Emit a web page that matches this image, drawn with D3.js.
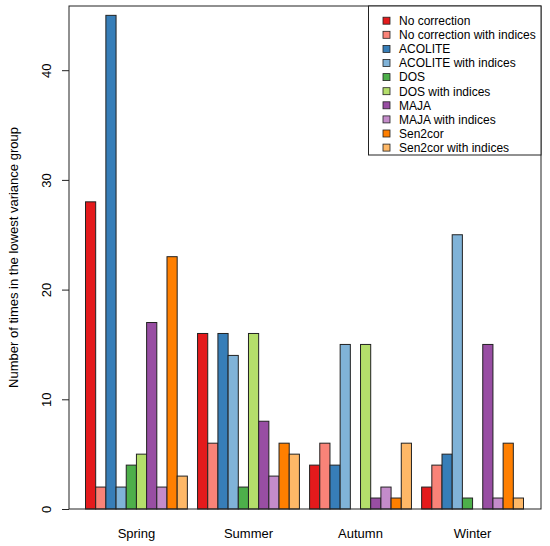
<!DOCTYPE html>
<html>
<head>
<meta charset="utf-8">
<script src="https://cdn.jsdelivr.net/npm/d3@7"></script>
<style>
  body { margin: 0; background: #fff; }
  text { font-family: "Liberation Sans", Arial, sans-serif; fill: #000; }
</style>
</head>
<body>
<div id="chart"></div>
<script>
// Chart data
var seasons = ["Spring", "Summer", "Autumn", "Winter"];
var methods = ["No correction", "No correction with indices", "ACOLITE", "ACOLITE with indices",
  "DOS", "DOS with indices", "MAJA", "MAJA with indices", "Sen2cor", "Sen2cor with indices"];
var colors = ["#e41a1c", "#f98378", "#377eb8", "#80b3d8", "#4daf4a",
  "#b4de6b", "#984ea3", "#c48cca", "#ff7f00", "#feb867"];
// one row per season, one value per method
var springValues = [28, 2, 45, 2, 4, 5, 17, 2, 23, 3];
var summerValues = [16, 6, 16, 14, 2, 16, 8, 3, 6, 5];
var autumnValues = [4, 6, 4, 15, 0, 15, 1, 2, 1, 6];
var winterValues = [2, 4, 5, 25, 1, 0, 15, 1, 6, 1];
var yTicks = [0, 10, 20, 30, 40];

var allValues = [springValues, summerValues, autumnValues, winterValues];

var svgWidth = 550;
var svgHeight = 546;

// plot box
var box = { left: 69, top: 6, right: 541, bottom: 509 };

var svg = d3.select("#chart")
  .append("svg")
  .attr("width", svgWidth)
  .attr("height", svgHeight);

// y scale: 0 sits on the box bottom
var yScale = d3.scaleLinear()
  .domain([0, 10])
  .range([box.bottom, box.bottom - 109.7]);

// group positions (gap of one bar width between groups)
var xGroup = d3.scaleBand()
  .domain(seasons)
  .range([85.5, 523.5])
  .paddingInner(1 / 11)
  .paddingOuter(0);

var xInner = d3.scaleBand()
  .domain(d3.range(methods.length))
  .range([0, xGroup.bandwidth()])
  .padding(0);

// bars
var groups = svg.selectAll(".season")
  .data(seasons)
  .enter()
  .append("g")
  .attr("class", "season")
  .attr("transform", d => `translate(${xGroup(d)}, 0)`);

groups.selectAll("rect")
  .data((d, i) => allValues[i].map((v, j) => ({ value: v, idx: j })))
  .enter()
  .append("rect")
  .attr("x", d => xInner(d.idx))
  .attr("y", d => yScale(d.value))
  .attr("width", xInner.bandwidth())
  .attr("height", d => yScale(0) - yScale(d.value))
  .attr("fill", d => colors[d.idx])
  .attr("stroke", "#222")
  .attr("stroke-width", 1);

// box around plot
svg.append("rect")
  .attr("x", box.left)
  .attr("y", box.top)
  .attr("width", box.right - box.left)
  .attr("height", box.bottom - box.top)
  .attr("fill", "none")
  .attr("stroke", "#222")
  .attr("stroke-width", 1);

// left axis
var leftAxis = d3.axisLeft(yScale)
  .tickValues(yTicks)
  .tickSize(7)
  .tickPadding(0)
  .tickFormat(d3.format("d"));

var yAxisG = svg.append("g")
  .attr("transform", `translate(${box.left}, 0)`)
  .call(leftAxis);

yAxisG.select(".domain").remove();
yAxisG.selectAll(".tick line").attr("stroke", "#222");
yAxisG.selectAll(".tick text")
  .attr("x", null)
  .attr("dy", null)
  .attr("transform", "translate(-18, 0) rotate(-90)")
  .style("text-anchor", "middle")
  .attr("font-size", 13)
  .attr("font-family", "Liberation Sans, Arial, sans-serif");

// season labels
svg.selectAll(".season-label")
  .data(seasons)
  .enter()
  .append("text")
  .attr("class", "season-label")
  .attr("x", d => xGroup(d) + xGroup.bandwidth() / 2)
  .attr("y", 538)
  .style("text-anchor", "middle")
  .style("font-size", "13px")
  .text(d => d);

// y axis title
svg.append("text")
  .attr("transform", `translate(18, ${(box.top + box.bottom) / 2}) rotate(-90)`)
  .style("text-anchor", "middle")
  .style("font-size", "13px")
  .text("Number of times in the lowest variance group");

// legend
var legend = svg.append("g");

legend.append("rect")
  .attr("x", 368.5)
  .attr("y", box.top)
  .attr("width", box.right - 368.5)
  .attr("height", 149)
  .attr("fill", "#fff")
  .attr("stroke", "#222")
  .attr("stroke-width", 1);

var legendItems = legend.selectAll(".legend-item")
  .data(methods)
  .enter()
  .append("g")
  .attr("class", "legend-item")
  .attr("transform", (d, i) => `translate(0, ${20.7 + i * 14.1})`);

legendItems.append("rect")
  .attr("x", 383)
  .attr("y", -3.5)
  .attr("width", 7)
  .attr("height", 7)
  .attr("fill", (d, i) => colors[i])
  .attr("stroke", "#222")
  .attr("stroke-width", 0.8);

legendItems.append("text")
  .attr("x", 399)
  .attr("y", 4.3)
  .style("font-size", "12px")
  .text(d => d);
</script>
</body>
</html>
